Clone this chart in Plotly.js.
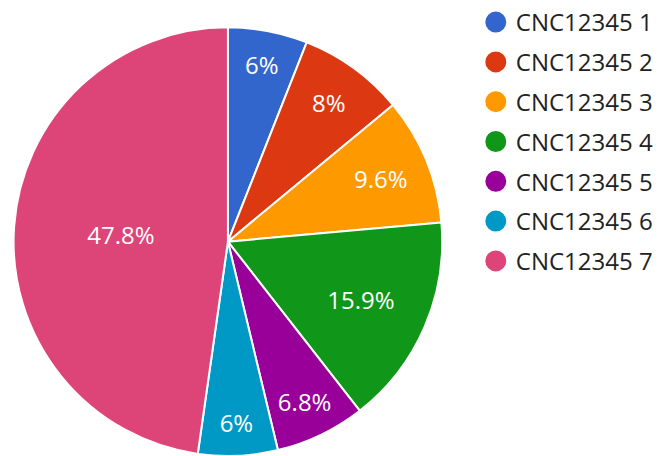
<!DOCTYPE html>
<html>
<head>
<meta charset="utf-8">
<script src="https://cdn.plot.ly/plotly-3.0.1.min.js"></script>
<style>html,body{margin:0;padding:0;background:#fff;}#chart{width:659px;height:456px;}</style>
</head>
<body>
<div id="chart"></div>
<script>
const labels = ["CNC12345 1", "CNC12345 2", "CNC12345 3", "CNC12345 4", "CNC12345 5", "CNC12345 6", "CNC12345 7"];
const values = [6, 8, 9.6, 15.9, 6.8, 6, 47.8];
const colors = ["#3366cc", "#dc3912", "#ff9900", "#109618", "#990099", "#0099c6", "#dd4477"];
const pctText = values.map(v => v + "%");

const FONT = "Open Sans, Noto Sans, sans-serif";

const traces = [{
  type: "pie",
  labels: labels,
  values: values,
  text: pctText,
  textinfo: "text",
  textposition: "inside",
  insidetextorientation: "horizontal",
  insidetextfont: {family: FONT, size: 24, color: "#ffffff"},
  sort: false,
  direction: "clockwise",
  rotation: 0,
  marker: {colors: colors, line: {color: "#ffffff", width: 2}},
  domain: {x: [0.0197, 0.672], y: [0, 0.94]},
  showlegend: false,
  hoverinfo: "label+value+percent"
}];

labels.forEach((lab, i) => {
  traces.push({
    type: "scatter",
    mode: "markers",
    x: [null],
    y: [null],
    name: lab,
    legendgroup: "g" + i,
    marker: {color: colors[i], size: 16, symbol: "circle", line: {color: colors[i], width: 5}},
    hoverinfo: "skip"
  });
});

const layout = {
  width: 659,
  height: 456,
  margin: {l: 0, r: 0, t: 0, b: 0},
  paper_bgcolor: "#ffffff",
  plot_bgcolor: "#ffffff",
  font: {family: FONT, size: 24, color: "#222222"},
  xaxis: {visible: false},
  yaxis: {visible: false},
  showlegend: true,
  legend: {
    x: 0.722, xanchor: "left",
    y: 1.0, yanchor: "top",
    traceorder: "grouped",
    tracegroupgap: 5.6,
    font: {family: FONT, size: 24, color: "#222222"},
    bgcolor: "rgba(0,0,0,0)",
    itemsizing: "trace"
  }
};

Plotly.newPlot("chart", traces, layout, {displayModeBar: false, staticPlot: true});
</script>
</body>
</html>
